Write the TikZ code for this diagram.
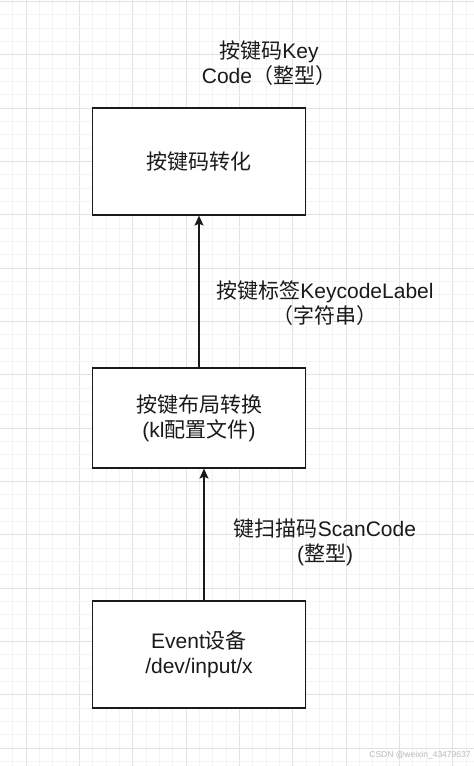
\documentclass[tikz,border=0pt]{standalone}
\usepackage{fontspec}
\setmainfont{Liberation Sans}
\newfontfamily\cjk{Noto Sans CJK SC}
\usetikzlibrary{arrows.meta}
\definecolor{majorgrid}{HTML}{E2E2E2}
\definecolor{minorgrid}{HTML}{F3F3F3}
\definecolor{inkc}{HTML}{1A1A1A}
\tikzset{
  box/.style={draw=inkc, line width=1.2pt, fill=white, minimum width=213pt, text=inkc,
    align=center, font=\fontsize{21}{25}\selectfont, inner sep=0pt},
  lbl/.style={align=center, text=inkc, font=\fontsize{21}{25}\selectfont, inner sep=0pt},
  flow/.style={draw=inkc, line width=1.2pt, -{Stealth[length=10pt,width=9pt,inset=2pt]}},
  wmark/.style={text=black!28, font=\fontsize{8.5}{10}\selectfont, inner sep=0pt}
}
\begin{document}
\begin{tikzpicture}[x=1pt,y=-1pt]
\useasboundingbox (0,0) rectangle (474,766);
\fill[white] (0,0) rectangle (474,766);
% grid
\foreach \i in {-2,...,35} {
  \pgfmathsetmacro{\gx}{26+\i*13.3333}
  \pgfmathtruncatemacro{\gm}{mod(\i+8,4)}
  \ifnum\gm=0
    \draw[majorgrid, line width=0.9pt] (\gx,0) -- (\gx,766);
  \else
    \draw[minorgrid, line width=0.7pt] (\gx,0) -- (\gx,766);
  \fi
}
\foreach \j in {0,...,58} {
  \pgfmathsetmacro{\gy}{1.5+\j*13.3333}
  \pgfmathtruncatemacro{\gm}{mod(\j,4)}
  \ifnum\gm=0
    \draw[majorgrid, line width=0.9pt] (0,\gy) -- (474,\gy);
  \else
    \draw[minorgrid, line width=0.7pt] (0,\gy) -- (474,\gy);
  \fi
}
% boxes
\node[box, minimum height=107pt] (b1) at (199,161.5) {{\cjk 按键码转化}};
\node[box, minimum height=100pt] (b2) at (199,418) {{\cjk 按键布局转换}\\(kl{\cjk 配置文件})};
\node[box, minimum height=107pt] (b3) at (199,654.5) {Event{\cjk 设备}\\/dev/input/x};
% connectors
\draw[flow] (b2.north) -- (b1.south);
\draw[flow] ([xshift=5pt]b3.north) -- ([xshift=5pt]b2.south);
% labels
\node[lbl] (l1) at (269,63) {{\cjk 按键码}Key\\Code{\cjk （整型）}};
\node[lbl] (l2) at (325,303) {{\cjk 按键标签}KeycodeLabel\\{\cjk （字符串）}};
\node[lbl] (l3) at (325,542) {{\cjk 键扫描码}ScanCode\\({\cjk 整型})};
\node[wmark] (wm) at (420,755) {CSDN @weixin\_43479637};
\end{tikzpicture}
\end{document}
